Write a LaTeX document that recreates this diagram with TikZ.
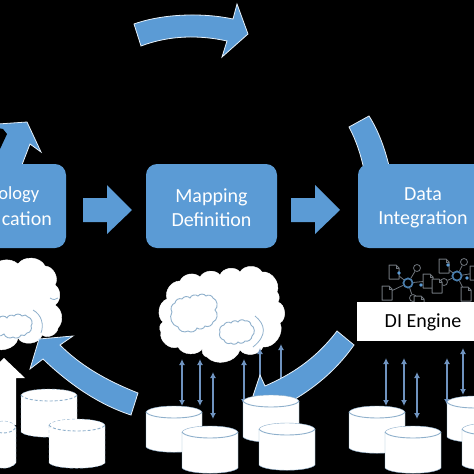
\documentclass[tikz,border=0pt]{standalone}
\usepackage{fontspec}
\setmainfont{Carlito}
\usetikzlibrary{arrows.meta}
\definecolor{boxblue}{HTML}{5B9BD5}
\definecolor{lineblue}{HTML}{6F93BF}
\definecolor{cloudline}{HTML}{8FB0CC}
\definecolor{icongrey}{HTML}{6F757C}
\tikzset{
  flowbox/.style={fill=boxblue,rounded corners=11pt},
  boxtext/.style={text=white,font=\fontsize{20}{24}\selectfont,align=center,inner sep=0pt},
  blockarrow/.style={fill=boxblue},
  curvedarrow/.style={fill=boxblue,draw=white!85!boxblue,line width=0.8pt,line join=miter},
  linkarrow/.style={draw=lineblue,line width=1.2pt,{Latex[length=6pt,width=6pt]}-{Latex[length=6pt,width=6pt]}},
  cloudbody/.style={fill=white,draw=white},
  cloudinner/.style={fill=white,draw=cloudline,line width=0.9pt},
  docicon/.style={draw=icongrey,line width=1pt,fill=black,line join=round},
  iconlink/.style={draw=icongrey,line width=0.8pt},
  hubnode/.style={circle,draw=boxblue!80!black,line width=1.6pt,fill=black,minimum size=9pt,inner sep=0pt},
  smallnode/.style={circle,draw=icongrey,line width=0.8pt,fill=black,minimum size=7pt,inner sep=0pt},
  cylplain/.style={draw=cloudline},
  cyldash/.style={draw=cloudline,densely dashed},
}
% x1 x2 ytop ybottom edge-style (top ellipse centre at ytop)
\newcommand{\dbcyl}[5]{%
  \path[fill=white,#5] (#1,#3) -- (#1,#4) .. controls (#1+6,#4+7) and (#2-6,#4+7) .. (#2,#4) -- (#2,#3)
    .. controls (#2-4,#3-8) and (#1+4,#3-8) .. (#1,#3) -- cycle;
  \draw[line width=0.9pt,#5] (#1,#3) .. controls (#1+4,#3+8) and (#2-4,#3+8) .. (#2,#3);
}
\newcommand{\docshape}[2]{%
  \path[docicon] (#1-5,#2-7) -- (#1+2,#2-7) -- (#1+5,#2-4) -- (#1+5,#2+7) -- (#1-5,#2+7) -- cycle;
  \draw[iconlink] (#1+2,#2-7) -- (#1+2,#2-4) -- (#1+5,#2-4);
}
\begin{document}
\begin{tikzpicture}[x=1pt,y=-1pt]
\useasboundingbox (0,0) rectangle (474,474);
\fill[black] (0,0) rectangle (474,474);
\clip (0,0) rectangle (474,474);

% top curved arrow
\path[curvedarrow] (134,24) .. controls (165,13) and (205,13) .. (233,19) -- (237,4) -- (248,34) -- (222,57) -- (227,41)
  .. controls (200,35) and (170,35) .. (141,46) -- cycle;
% stub arrow over data integration
\path[curvedarrow] (349,127) -- (369,116) .. controls (378,130) and (385,148) .. (390,170) -- (364,170) .. controls (361,155) and (356,140) .. (349,127) -- cycle;
% stub arrow over left box
\path[curvedarrow] (-2,124) -- (27,122) -- (41,152) -- (30,144) -- (20,170) -- (-2,170) -- cycle;
\fill[black] (-2,128) -- (3,129) -- (7,134) -- (0,149) -- (-2,149) -- cycle;

% flow boxes
\path[flowbox] (-30,164) rectangle (66,248);
\path[flowbox] (146,164) rectangle (277,248);
\path[flowbox] (358,164) rectangle (500,248);
\node[boxtext,font=\fontsize{18.5}{22}\selectfont,anchor=east] (ontA) at (39.5,195) {ology};
\node[boxtext,anchor=east] (ontB) at (52,219) {cation};
\node[boxtext] (map) at (211.5,207.5) {Mapping\\[0pt]Definition};
\node[boxtext] (dint) at (423,207.5) {Data\\[0pt]Integration};

% straight block arrows
\path[blockarrow] (83,198) -- (107,198) -- (107,185) -- (132,210) -- (107,234) -- (107,222) -- (83,222) -- cycle;
\path[blockarrow] (291,198) -- (315,198) -- (315,185) -- (340,210) -- (315,234) -- (315,222) -- (291,222) -- cycle;

% left cloud
\path[cloudbody] (-10,270) to[bend left=55] (18,264) to[bend left=60] (45,266) to[bend left=60] (55,285)
  to[bend left=55] (55,305) to[bend left=50] (58,328) to[bend left=60] (42,335) to[bend left=70] (18,338)
  to[bend left=70] (-10,345) -- cycle;
\path[cloudinner] (-8,322) to[bend left=55] (-1,318) to[bend left=55] (7,318) to[bend left=55] (14,316) to[bend left=55] (22,316)
  to[bend left=55] (28,317) to[bend left=60] (31,326) to[bend left=60] (27,333) to[bend left=55] (21,335) to[bend left=55] (13,337) to[bend left=55] (4,334)
  to[bend left=55] (-8,332);
\draw[cloudline,line width=0.8pt] (33,310) .. controls (42,315) and (44,325) .. (41,333);
\draw[cloudline,line width=0.8pt] (50,298) .. controls (53,300) and (56,300) .. (58,298);

% left group
\path[fill=white] (4,358) -- (25,378) -- (16,378) -- (16,425) -- (-8,425) -- (-8,378) -- (-17,378) -- cycle;
\dbcyl{21}{77}{395}{432}{cyldash}
\dbcyl{-9}{16}{427}{463}{cyldash}
\dbcyl{49}{105}{425}{463}{cyldash}

% large curved arrow, left
\path[curvedarrow] (30,369) -- (39,339) -- (73,336) -- (60,345) .. controls (80,365) and (105,380) .. (138,393) -- (131,415)
  .. controls (100,405) and (70,385) .. (43,359) -- cycle;

% mid cloud
\path[cloudbody] (163,322) to[bend left=60] (167,299) to[bend left=55] (180,281) to[bend left=55] (200,277)
  to[bend left=55] (220,275) to[bend left=60] (240,272) to[bend left=60] (262,272) to[bend left=60] (277,292)
  to[bend left=35] (278,302) to[bend left=65] (280,323) to[bend left=60] (263,347) to[bend left=60] (240,350)
  to[bend left=60] (207,357) to[bend left=60] (203,348) to[bend left=60] (178,347) to[bend left=65] (161,332) to[bend left=50] cycle;
\path[cloudinner] (172,312) to[bend left=55] (175,303) to[bend left=55] (182,299) to[bend left=55] (190,298) to[bend left=55] (198,296)
  to[bend left=55] (206,296) to[bend left=55] (213,298) to[bend left=60] (215,310) to[bend left=60] (213,322) to[bend left=55] (205,326)
  to[bend left=55] (197,328) to[bend left=55] (188,331) to[bend left=55] (178,327) to[bend left=55] cycle;
\path[cloudinner] (220,332) to[bend left=55] (224,325) to[bend left=55] (231,323) to[bend left=55] (238,322) to[bend left=55] (245,321)
  to[bend left=55] (251,325) to[bend left=60] (252,336) to[bend left=55] (245,341) to[bend left=55] (238,342) to[bend left=55] (231,343) to[bend left=55] (224,340) to[bend left=55] cycle;
\draw[cloudline,line width=0.8pt] (255,316) .. controls (265,324) and (268,335) .. (253,347);

% double arrows, mid and right
\foreach \n/\xa/\ya/\yb in {m1/182/359/406,m2/200/359/406,m3/213/372/419,m4/244/359/405,m5/260/348/395,m6/281/344/391,
  r1/386/358/406,r2/404/358/406,r3/417/372/419,r4/447/358/405,r5/463/348/395}{
  \coordinate (\n t) at (\xa,\ya);
  \coordinate (\n b) at (\xa,\yb);
  \draw[linkarrow] (\n t) -- (\n b);
}

% large curved arrow, mid
\path[curvedarrow] (337,331) -- (354,345) .. controls (340,365) and (320,385) .. (290,402) -- (253,396) -- (260,375) -- (265,386)
  .. controls (290,375) and (315,360) .. (337,331) -- cycle;

% mid cylinders
\dbcyl{146}{202}{412}{447}{cylplain}
\dbcyl{182}{238}{432}{468}{cylplain}
\dbcyl{243}{299}{401}{437}{cylplain}
\dbcyl{259}{315}{429}{465}{cylplain}

% right cylinders
\dbcyl{349}{405}{412}{448}{cylplain}
\dbcyl{385}{441}{432}{468}{cylplain}
\dbcyl{447}{503}{402}{437}{cylplain}
\dbcyl{462}{518}{429}{465}{cylplain}

% network icon
\node[hubnode] (hubA) at (408,283) {};
\node[hubnode] (hubB) at (457,276) {};
\node[smallnode] (sa) at (417,268) {};
\node[smallnode] (sb) at (413,298) {};
\node[smallnode] (sc) at (464,262) {};
\node[smallnode] (sd) at (444,282) {};
\coordinate (da) at (394,272);
\coordinate (db) at (387,293);
\coordinate (dc) at (428,281);
\coordinate (dd) at (437,286);
\coordinate (de) at (419,303);
\coordinate (df) at (444,266);
\coordinate (dg) at (466,294);
\coordinate (dh) at (475,273);
\foreach \t in {da,db,dc,sa,sb}{\draw[iconlink] (hubA) -- (\t);}
\foreach \t in {sc,sd,df,dg,dh}{\draw[iconlink] (hubB) -- (\t);}
\docshape{394}{272}\docshape{387}{293}\docshape{428}{281}\docshape{437}{286}
\docshape{419}{303}\docshape{444}{266}\docshape{466}{294}\docshape{475}{273}
\foreach \px/\py in {399/273,421/285,448/265,467/278}{\fill[boxblue] (\px,\py) circle (1.8pt);}
\node[hubnode] at (hubA) {};
\node[hubnode] at (hubB) {};

% DI Engine
\path[fill=white] (357,302) rectangle (480,341);
\node[text=black,font=\fontsize{20}{24}\selectfont,inner sep=0pt] (di) at (423,322.5) {DI Engine};
\end{tikzpicture}
\end{document}
